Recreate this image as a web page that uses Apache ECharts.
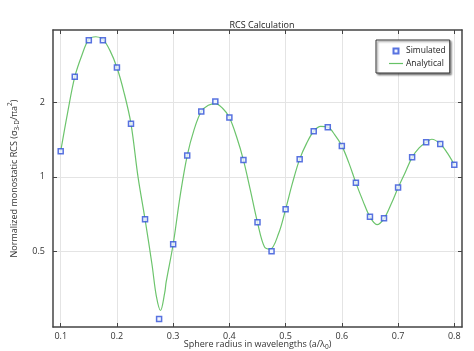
<!DOCTYPE html>
<html>
<head>
<meta charset="utf-8">
<script src="https://cdn.jsdelivr.net/npm/echarts@6/dist/echarts.min.js"></script>
<style>html,body{margin:0;padding:0;background:#fff;}#c{width:474px;height:351px;}</style>
</head>
<body>
<div id="c"></div>
<script>
const xTicks = [0.1, 0.2, 0.3, 0.4, 0.5, 0.6, 0.7, 0.8];
const yTicks = [0.5, 1, 2];
const simX = [0.1, 0.125, 0.15, 0.175, 0.2, 0.225, 0.25, 0.275, 0.3, 0.325, 0.35, 0.375, 0.4, 0.425, 0.45, 0.475, 0.5, 0.525, 0.55, 0.575, 0.6, 0.625, 0.65, 0.675, 0.7, 0.725, 0.75, 0.775, 0.8];
const simY = [1.27, 2.54, 3.57, 3.57, 2.77, 1.64, 0.674, 0.266, 0.534, 1.22, 1.84, 2.02, 1.74, 1.17, 0.655, 0.50, 0.74, 1.18, 1.53, 1.59, 1.335, 0.948, 0.69, 0.68, 0.905, 1.20, 1.38, 1.36, 1.12];
const anaX = [0.1, 0.1125, 0.125, 0.1375, 0.15, 0.1625, 0.175, 0.1875, 0.2, 0.2125, 0.225, 0.2375, 0.25, 0.2625, 0.27, 0.2775, 0.285, 0.2875, 0.3, 0.3125, 0.325, 0.3375, 0.35, 0.3625, 0.375, 0.3875, 0.4, 0.4125, 0.425, 0.4375, 0.45, 0.4625, 0.4725, 0.4875, 0.5, 0.5125, 0.525, 0.5375, 0.55, 0.5625, 0.575, 0.5875, 0.6, 0.6125, 0.625, 0.6375, 0.65, 0.6625, 0.675, 0.6875, 0.7, 0.7125, 0.725, 0.7375, 0.75, 0.76, 0.775, 0.7875, 0.8];
const anaY = [1.27, 1.83, 2.54, 3.1, 3.6, 3.69, 3.6, 3.25, 2.77, 2.2, 1.64, 1.0, 0.674, 0.44, 0.33, 0.288, 0.34, 0.375, 0.534, 0.84, 1.22, 1.56, 1.84, 1.95, 1.98, 1.90, 1.74, 1.46, 1.17, 0.88, 0.654, 0.52, 0.51, 0.59, 0.74, 0.95, 1.18, 1.37, 1.53, 1.60, 1.59, 1.48, 1.335, 1.14, 0.946, 0.80, 0.689, 0.641, 0.678, 0.775, 0.903, 1.04, 1.2, 1.31, 1.38, 1.42, 1.36, 1.25, 1.12];

const FONT = 'Open Sans';
const frame = '#444';
const gridCol = '#e4e4e4';
const xMin = 0.0863, xMax = 0.8137, yMin = 0.247, yMax = 3.93;

function xAx(pos, main) {
  return {
    type: 'value', position: pos, min: xMin, max: xMax,
    axisLine: {show: true, onZero: false, lineStyle: {color: frame, width: 1.5}},
    axisTick: {show: true, inside: true, length: 4, customValues: xTicks, lineStyle: {color: frame}},
    axisLabel: {show: main, customValues: xTicks, margin: 5, fontSize: 9, fontFamily: FONT, color: '#333'},
    splitLine: {show: main, lineStyle: {color: gridCol, width: 1}},
    name: main ? '{n|Sphere radius in wavelengths (a/λ}{s|0}{n|)}' : '',
    nameLocation: 'middle', nameGap: 11, nameMoveOverlap: false,
    nameTextStyle: {rich: {
      n: {fontSize: 9, fontFamily: FONT, color: '#333', lineHeight: 13, verticalAlign: 'middle'},
      s: {fontSize: 6.5, fontFamily: FONT, color: '#333', verticalAlign: 'bottom'}
    }}
  };
}
function yAx(pos, main) {
  return {
    type: 'log', logBase: 2, position: pos, min: yMin, max: yMax,
    axisLine: {show: true, onZero: false, lineStyle: {color: frame, width: 1.5}},
    axisTick: {show: true, inside: true, length: 4, customValues: yTicks, lineStyle: {color: frame}},
    axisLabel: {show: main, customValues: yTicks, margin: 8, fontSize: 9, fontFamily: FONT, color: '#333'},
    splitLine: {show: main, lineStyle: {color: gridCol, width: 1}},
    minorTick: {show: false}, minorSplitLine: {show: false},
    name: main ? '{n|Normalized monostatic RCS (σ}{s|3-D}{n|/πa}{p|2}{n|)}' : '',
    nameLocation: 'middle', nameGap: 32, nameRotate: 90, nameMoveOverlap: false,
    nameTextStyle: {rich: {
      n: {fontSize: 9, fontFamily: FONT, color: '#333', lineHeight: 14, verticalAlign: 'middle'},
      s: {fontSize: 6.5, fontFamily: FONT, color: '#333', verticalAlign: 'bottom'},
      p: {fontSize: 6.5, fontFamily: FONT, color: '#333', verticalAlign: 'top'}
    }}
  };
}

const chart = echarts.init(document.getElementById('c'), null, {renderer: 'canvas'});
chart.setOption({
  animation: false,
  backgroundColor: '#fff',
  title: {text: 'RCS Calculation', left: 257, top: 16, textAlign: 'center',
    textStyle: {fontSize: 9, fontWeight: 'normal', fontFamily: FONT, color: '#222'}},
  grid: {left: 53, right: 12, top: 30, bottom: 24, outerBoundsMode: 'none', containLabel: false},
  legend: {
    orient: 'vertical', left: 376, top: 40,
    data: [
      {name: 'Simulated', icon: 'path://M0,0 M14,10 M4.5,2.5 h5 v5 h-5 z'},
      {name: 'Analytical', icon: 'path://M0,4.4 h14 v1.2 h-14 z', itemStyle: {color: '#66c266', borderWidth: 0}}
    ],
    padding: [5, 4, 5, 12], itemGap: 2, itemWidth: 14, itemHeight: 10,
    backgroundColor: '#fff', borderColor: '#333', borderWidth: 1,
    shadowColor: 'rgba(0,0,0,0.45)', shadowBlur: 2, shadowOffsetX: 1.5, shadowOffsetY: 1.5,
    textStyle: {fontSize: 8.5, fontFamily: FONT, color: '#222', padding: [0, 0, 0, -2]}
  },
  xAxis: [xAx('bottom', true), xAx('top', false)],
  yAxis: [yAx('left', true), yAx('right', false)],
  series: [
    {
      name: 'Analytical', type: 'line', smooth: 0.35, showSymbol: false, symbol: 'none',
      data: anaX.map((x, i) => [x, anaY[i]]),
      lineStyle: {color: '#6cc46c', width: 1.2}, itemStyle: {color: '#6cc46c'}, z: 2
    },
    {
      name: 'Simulated', type: 'scatter', symbol: 'rect', symbolSize: 5,
      data: simX.map((x, i) => [x, simY[i]]),
      itemStyle: {color: '#eef2ff', borderColor: '#3050d8', borderWidth: 1.5}, z: 3
    }
  ]
});
</script>
</body>
</html>
